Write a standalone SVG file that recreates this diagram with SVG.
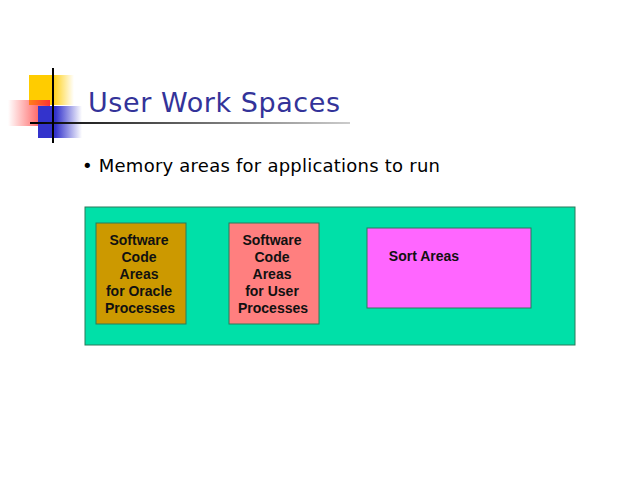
<svg xmlns="http://www.w3.org/2000/svg" width="638" height="478" viewBox="0 0 638 478">
<defs>
<linearGradient id="yl" x1="0" x2="1"><stop offset="0.5" stop-color="#ffcc00"/><stop offset="1" stop-color="#ffcc00" stop-opacity="0"/></linearGradient>
<linearGradient id="rd" x1="0" x2="1"><stop offset="0" stop-color="#ff3333" stop-opacity="0"/><stop offset="1" stop-color="#ff3333"/></linearGradient>
<linearGradient id="bl" x1="0" x2="1"><stop offset="0.4" stop-color="#3333cc"/><stop offset="1" stop-color="#3333cc" stop-opacity="0"/></linearGradient>
<linearGradient id="ln" x1="0" x2="1"><stop offset="0" stop-color="#000"/><stop offset="0.5" stop-color="#666"/><stop offset="1" stop-color="#ccc"/></linearGradient>
<style>
.b{stroke:#2a7a5a;stroke-width:1}
.t{font-family:"Liberation Sans",Arial,sans-serif;font-weight:bold;font-size:14px;fill:#111;text-anchor:middle}
</style>
</defs>
<g id="logo">
<rect x="29" y="75" width="45" height="30" fill="url(#yl)"/>
<rect x="8" y="100" width="42" height="26" fill="url(#rd)"/>
<rect x="38" y="106" width="44" height="32" fill="url(#bl)"/>
<rect x="30" y="122" width="320" height="2" fill="url(#ln)"/>
<rect x="52" y="68" width="2" height="75" fill="#000"/>
</g>
<text x="88" y="112" font-family="'DejaVu Sans',Verdana,sans-serif" font-size="27" fill="#333399" textLength="252">User Work Spaces</text>
<text x="82" y="172" font-family="'DejaVu Sans',Verdana,sans-serif" font-size="18" fill="#000" textLength="358">• Memory areas for applications to run</text>
<g id="outer"><rect class="b" x="85" y="207" width="490" height="138" fill="#00e0a8"/></g>
<g id="oracle"><rect class="b" x="96" y="223" width="90" height="101" fill="#cc9900"/>
<text class="t"><tspan x="139" y="245">Software</tspan><tspan x="139" y="262">Code</tspan><tspan x="139" y="279">Areas</tspan><tspan x="139" y="296">for Oracle</tspan><tspan x="140" y="313">Processes</tspan></text></g>
<g id="user"><rect class="b" x="229" y="223" width="90" height="101" fill="#ff7f7f"/>
<text class="t"><tspan x="272" y="245">Software</tspan><tspan x="272" y="262">Code</tspan><tspan x="272" y="279">Areas</tspan><tspan x="272" y="296">for User</tspan><tspan x="273" y="313">Processes</tspan></text></g>
<g id="sort"><rect class="b" x="367" y="228" width="164" height="80" fill="#ff66ff"/>
<text class="t" x="424" y="261">Sort Areas</text></g>
</svg>
